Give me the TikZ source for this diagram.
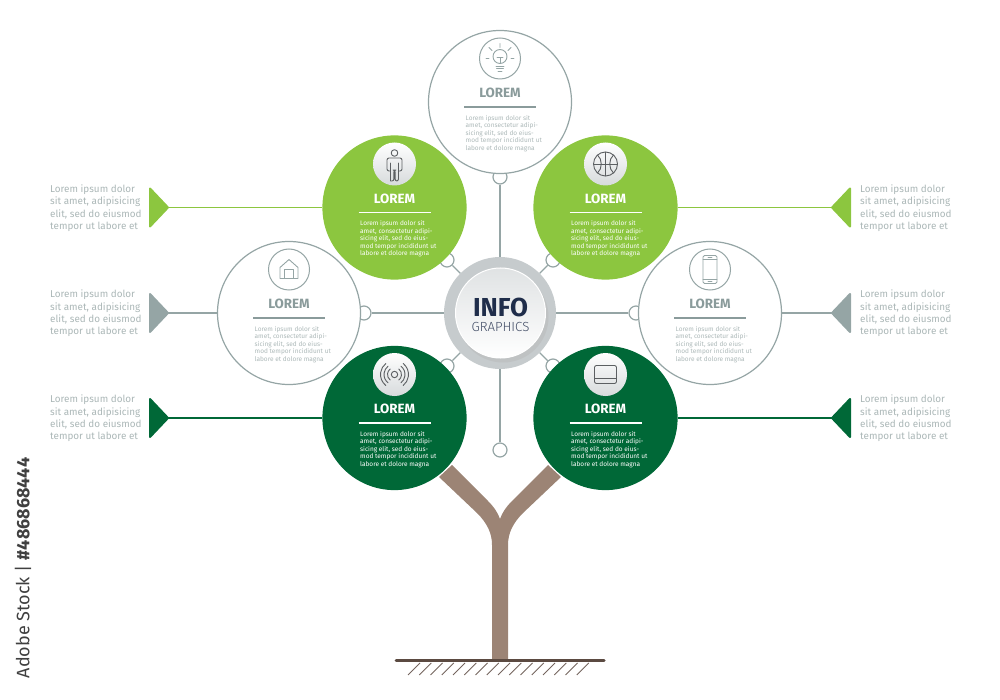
\documentclass[tikz,border=0pt]{standalone}
\usepackage{fontspec}
\setmainfont{Fira Sans}
\newfontfamily\thinfont{Fira Sans Light}
\colorlet{pale-fill}{white}
\definecolor{leaf-fill}{HTML}{8CC63F}
\definecolor{forest-fill}{HTML}{006837}
\definecolor{pale-head}{HTML}{8A9B9B}
\colorlet{leaf-head}{white}
\colorlet{forest-head}{white}
\definecolor{pale-body}{HTML}{ADB9B9}
\colorlet{leaf-body}{white}
\colorlet{forest-body}{white}
\definecolor{pale-mark}{HTML}{95A5A5}
\colorlet{leaf-mark}{leaf-fill}
\colorlet{forest-mark}{forest-fill}
\definecolor{sidetext}{HTML}{ABB7B7}
\definecolor{trunkbrown}{HTML}{9C8475}
\definecolor{soilbrown}{HTML}{5B4A41}
\definecolor{hubgrey}{HTML}{C6CBCD}
\definecolor{infonavy}{HTML}{1F2D4A}
\definecolor{iconline}{HTML}{5C5F62}
\tikzset{
  bubble/.style={circle,minimum size=143pt,inner sep=0pt,line width=1.2pt},
  badge/.style={circle,minimum size=41pt,inner sep=0pt,line width=1pt},
  knob/.style={circle,draw=pale-mark,fill=white,line width=1.2pt,minimum size=14pt,inner sep=0pt},
  link/.style={draw=pale-mark,line width=1.4pt},
  marker/.style={line width=2pt,line join=round},
  headtext/.style={font=\bfseries\fontsize{13.4}{15}\selectfont,inner sep=0pt},
  bodytext/.style={font=\fontsize{6.5}{7.45}\selectfont,align=left,anchor=west,inner sep=0pt},
  sidenote/.style={font=\fontsize{9.9}{12.4}\selectfont,align=left,anchor=west,inner sep=0pt,text=sidetext},
  pictogram/.style={draw=#1,line width=0.9pt,line cap=round,line join=round}
}
\begin{document}
\begin{tikzpicture}[x=1pt,y=-1pt]
  \useasboundingbox (0,0) rectangle (1000,700);
  % trunk and soil
  \fill[trunkbrown] (439,477) -- (452,465) -- (488,501) .. controls (494,507) and (498,513) .. (500,519)
    .. controls (502,513) and (506,507) .. (512,501) -- (548,465) -- (561,477) -- (523,513)
    .. controls (513,523) and (508,533) .. (508,545) -- (508,660) -- (492,660) -- (492,545)
    .. controls (492,533) and (487,523) .. (477,513) -- cycle;
  \draw[soilbrown,line width=3pt,line cap=round] (396,660.5) -- (604,660.5);
  \foreach \i in {0,...,15}
    \draw[soilbrown!85,line width=0.9pt] (408+\i*11.25,675) -- ++(12,-12);
  % hub ring
  \node[circle,fill=hubgrey,minimum size=112pt,inner sep=0pt] (hub) at (500,313) {};
  % knobs and links, the bubbles hide half of most knobs
  \foreach \name/\kx/\ky in {knobTop/500/177,knobUL/447/260,knobUR/553/260,knobL/364/313,knobR/636/313,knobDL/447/366,knobDR/553/366,knobDown/500/450} {
    \node[knob] (\name) at (\kx,\ky) {};
    \draw[link] (hub) -- (\name);
  }
  % the seven bubbles
  \foreach \name/\cx/\cy/\kind in {top/500/102/pale,leafL/394.5/207.5/leaf,leafR/605.5/207.5/leaf,paleL/289/313/pale,paleR/710/313/pale,forestL/394.5/418/forest,forestR/605.5/418/forest} {
    \node[bubble,fill=\kind-fill,draw=\kind-mark] (\name) at (\cx,\cy) {};
    \node[badge,draw=pale-mark,fill=white] (\name-badge) at (\cx,\cy-43.5) {};
    \node[headtext,text=\kind-head] (\name-head) at (\cx,\cy-9) {LOREM};
    \draw[\kind-head,line width=1.1pt] (\cx-36,\cy+5) -- ++(72,0);
    \node[bodytext,text=\kind-body] (\name-body) at (\cx-34.5,\cy+31.5) {Lorem ipsum dolor sit\\amet, consectetur adipi-\\sicing elit, sed do eius-\\mod tempor incididunt ut\\labore et dolore magna};
  }
  % shaded badges on the coloured bubbles
  \foreach \name in {leafL,leafR,forestL,forestR}
    \shade[top color=white,bottom color=hubgrey!70] (\name-badge.center) circle[radius=21.5pt];
  % hub disc
  \fill[black!30,opacity=0.35] (503,317) circle[radius=45.5pt];
  \node[circle,draw=white,line width=1pt,top color=hubgrey!55,bottom color=white,minimum size=90pt,inner sep=0pt] (disc) at (500.5,313) {};
  \node[font=\bfseries\fontsize{26}{26}\selectfont,text=infonavy,inner sep=0pt] (info) at (500.5,307) {INFO};
  \node[font=\thinfont\fontsize{13.2}{13.2}\selectfont,text=infonavy!85,inner sep=0pt] (graphics) at (500.5,327) {GRAPHICS};
  % side markers, notes and their lines
  \foreach \name/\ty/\kind/\target in {1/207.5/leaf/leafL,2/313/pale/paleL,3/418/forest/forestL} {
    \fill[\kind-mark,draw=\kind-mark,marker] (150,\ty-19) -- (168,\ty) -- (150,\ty+19) -- cycle;
    \coordinate (tipL\name) at (168,\ty);
    \draw[draw=\kind-mark,line width=1.2pt] (tipL\name) -- (\target);
    \node[sidenote] (noteL\name) at (50,\ty+0.5) {Lorem ipsum dolor\\sit amet, adipisicing\\elit, sed do eiusmod\\tempor ut labore et};
  }
  \foreach \name/\ty/\kind/\target in {1/207.5/leaf/leafR,2/313/pale/paleR,3/418/forest/forestR} {
    \fill[\kind-mark,draw=\kind-mark,marker] (850,\ty-19) -- (832,\ty) -- (850,\ty+19) -- cycle;
    \coordinate (tipR\name) at (832,\ty);
    \draw[draw=\kind-mark,line width=1.2pt] (tipR\name) -- (\target);
    \node[sidenote] (noteR\name) at (860,\ty+0.5) {Lorem ipsum dolor\\sit amet, adipisicing\\elit, sed do eiusmod\\tempor ut labore et};
  }
  % bulb icon
  \begin{scope}[shift={(top-badge.center)},pictogram=pale-mark]
    \draw (0,-2) circle[radius=7];
    \draw (-3,-1) -- (3,-1) (0,-1) -- (0,5);
    \draw (-4,7.5) -- (4,7.5) (-3.5,10) -- (3.5,10) (-2,12.5) -- (2,12.5);
    \draw (0,-11) -- (0,-15) (-8,-8) -- (-11,-11) (8,-8) -- (11,-11) (-11,0) -- (-14,0) (11,0) -- (14,0);
  \end{scope}
  % person icon
  \begin{scope}[shift={(leafL-badge.center)},pictogram=iconline]
    \draw (0,-11) circle[radius=3.3];
    \draw[rounded corners=2] (-4,17) -- (-4,-1) (-4,7) -- (-7.5,7) -- (-7.5,-6) -- (7.5,-6) -- (7.5,7) -- (4,7) (4,-1) -- (4,17) -- (0.6,17) -- (0.6,6) -- (-0.6,6) -- (-0.6,17) -- (-4,17);
  \end{scope}
  % ball icon
  \begin{scope}[shift={(leafR-badge.center)},pictogram=iconline]
    \draw (0,0) circle[radius=12];
    \draw (-12,0) -- (12,0) (0,-12) -- (0,12);
    \draw (-8,-9) .. controls (-3,-5) and (-3,5) .. (-8,9);
    \draw (8,-9) .. controls (3,-5) and (3,5) .. (8,9);
  \end{scope}
  % house icon
  \begin{scope}[shift={(paleL-badge.center)},pictogram=pale-mark]
    \draw (-9,9) -- (-9,-2) -- (0,-10) -- (9,-2) -- (9,9) -- cycle;
    \draw (-4.5,9) -- (-4.5,0) -- (4.5,0) -- (4.5,9);
  \end{scope}
  % phone icon
  \begin{scope}[shift={(paleR-badge.center)},pictogram=pale-mark]
    \draw[rounded corners=1.5] (-7,-14) rectangle (7,14);
    \draw (-7,-10) -- (7,-10) (-7,10) -- (7,10);
    \draw (-2,-12) -- (2,-12) (-2,12) -- (2,12);
  \end{scope}
  % signal icon
  \begin{scope}[shift={(forestL-badge.center)},pictogram=iconline]
    \draw (0,0) circle[radius=3.2];
    \foreach \r in {7,10.5,14} {
      \draw (-52:\r) arc[start angle=-52,end angle=52,radius=\r];
      \draw (128:\r) arc[start angle=128,end angle=232,radius=\r];
    }
  \end{scope}
  % tablet icon
  \begin{scope}[shift={(forestR-badge.center)},pictogram=iconline]
    \draw[rounded corners=2] (-11,-9) rectangle (11,9);
    \draw (-11,3.5) -- (11,3.5);
  \end{scope}
  % stock label on the left edge
  \node[rotate=90,font=\fontsize{18}{18}\selectfont,text=black!75,inner sep=0pt] (stock) at (23,568) {Adobe Stock | \textbf{\#486868444}};
\end{tikzpicture}
\end{document}
